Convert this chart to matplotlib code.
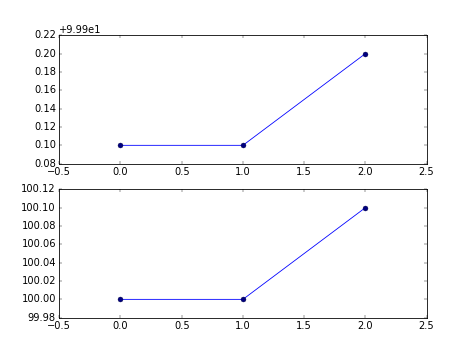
import matplotlib
matplotlib.use('Agg')
import matplotlib.pyplot as plt

x = [0, 1, 2]
y = [100.0, 100.0, 100.1]

plt.style.use('classic')

fig = plt.figure(figsize=(474 / 59.25, 353 / 59.25), dpi=59.25)

ax1 = fig.add_subplot(211)
ax1.plot(x, y, '-', color='b')
ax1.plot(x, y, 'o', color='#000080', markeredgecolor='#000040', markersize=6)
ax1.set_xlim(-0.5, 2.5)
ax1.set_ylim(99.98, 100.12)
ax1.ticklabel_format(axis='y', useOffset=99.9)

ax2 = fig.add_subplot(212)
ax2.plot(x, y, '-', color='b')
ax2.plot(x, y, 'o', color='#000080', markeredgecolor='#000040', markersize=6)
ax2.set_xlim(-0.5, 2.5)
ax2.set_ylim(99.98, 100.12)
ax2.ticklabel_format(axis='y', useOffset=False)

fig.savefig('out.png', dpi=59.25)
